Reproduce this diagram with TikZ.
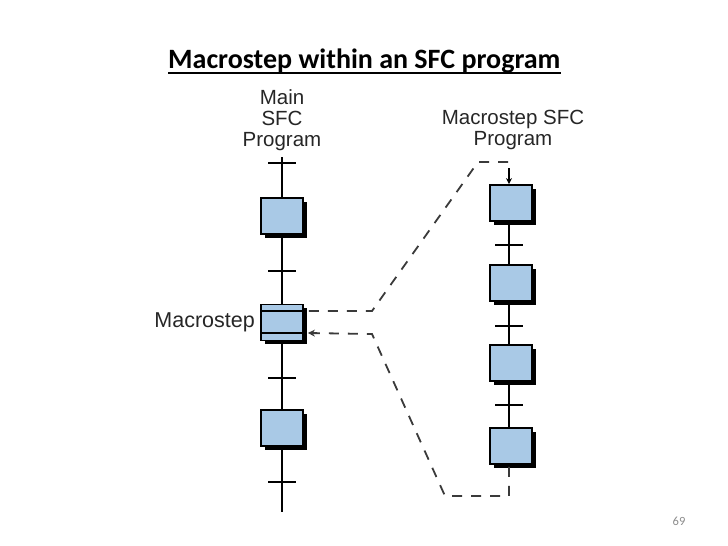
\documentclass[tikz,border=0pt]{standalone}
\usepackage{fontspec}
\setmainfont{Liberation Sans}
\newfontfamily\calibri{Carlito}
\usetikzlibrary{shadows,backgrounds,arrows.meta}
\definecolor{stepblue}{HTML}{A9C9E6}
\definecolor{dashgray}{HTML}{3A3A3A}
\begin{document}
\begin{tikzpicture}[x=1pt,y=-1pt,
  stepbox/.style={draw=black,line width=1.8pt,fill=stepblue,minimum width=42pt,minimum height=36pt,inner sep=0,
    drop shadow={shadow xshift=3.5pt,shadow yshift=-3.5pt,opacity=1,fill=black}},
  tickbar/.style={fill=black,minimum width=28pt,minimum height=2.2pt,inner sep=0},
  flow/.style={line width=2.4pt,black},
  dashline/.style={line width=1.8pt,dashgray,dash pattern=on 10pt off 9pt},
  lbl/.style={font=\fontsize{20.5}{21}\selectfont,text=black!85,align=center,inner sep=0}]
\useasboundingbox (0,0) rectangle (728,546);
% title
\node[font=\calibri\bfseries\fontsize{28}{32}\selectfont,anchor=base west,inner sep=0] (title) at (168,68) {Macrostep within an SFC program};
\draw[line width=1.8pt] ([yshift=-5pt]title.base west) -- ([yshift=-5pt]title.base east);
\node[font=\calibri\fontsize{12.5}{14}\selectfont,text=black!45,inner sep=0] (page) at (679,521) {69};
% labels
\node[lbl] (mainlbl) at (282,120) {Main\\SFC\\Program};
\node[lbl] (macrolbl) at (513,129.5) {Macrostep SFC\\Program};
\node[lbl,font=\fontsize{21.5}{22}\selectfont,anchor=base east] (mslbl) at (255,327) {Macrostep};
% main column
\coordinate (mtop) at (282,157);
\coordinate (mbot) at (282,512);
\node[tickbar] (t1) at (282,163) {};
\node[stepbox] (s1) at (282,216) {};
\node[tickbar] (t2) at (282,271) {};
\node[stepbox] (m) at (282,322.5) {};
\draw[line width=1.6pt] ([yshift=11.5pt]m.west) -- ([yshift=11.5pt]m.east);
\draw[line width=1.6pt] ([yshift=-10.5pt]m.west) -- ([yshift=-10.5pt]m.east);
\node[tickbar] (t3) at (282,378) {};
\node[stepbox] (s4) at (282,428) {};
\node[tickbar] (t4) at (282,482) {};
% right column
\node[stepbox] (r1) at (511,203) {};
\node[tickbar] (u1) at (509,245) {};
\node[stepbox] (r2) at (511,283) {};
\node[tickbar] (u2) at (509,326) {};
\node[stepbox] (r3) at (511,363) {};
\node[tickbar] (u3) at (509,405) {};
\node[stepbox] (r4) at (511,446) {};
\begin{scope}[on background layer]
\draw[flow] (mtop) -- (mbot);
\draw[flow] ([xshift=-2pt]r1.south) -- ([xshift=-2pt]r4.north);
\end{scope}
% dashed links
\coordinate (a1) at (372,311);
\coordinate (a2) at (478,162);
\coordinate (a3) at (509,162);
\coordinate (a4) at (509,168);
\draw[dashline] ([shift={(5pt,11.5pt)}]m.east) -- (a1) -- (a2) -- (a3);
\draw[line width=1.4pt,-{Stealth[length=6pt,width=6pt]}] (a4) -- ([xshift=-2pt]r1.north);
\coordinate (b1) at (509,496);
\coordinate (b2) at (445,496);
\coordinate (b3) at (372,334);
\draw[dashline,-{Stealth[length=7pt,width=7pt]}] ([xshift=-2pt,yshift=-2pt]r4.south) -- (b1) -- (b2) -- (b3) -- ([shift={(4pt,-10.5pt)}]m.east);
\end{tikzpicture}
\end{document}
